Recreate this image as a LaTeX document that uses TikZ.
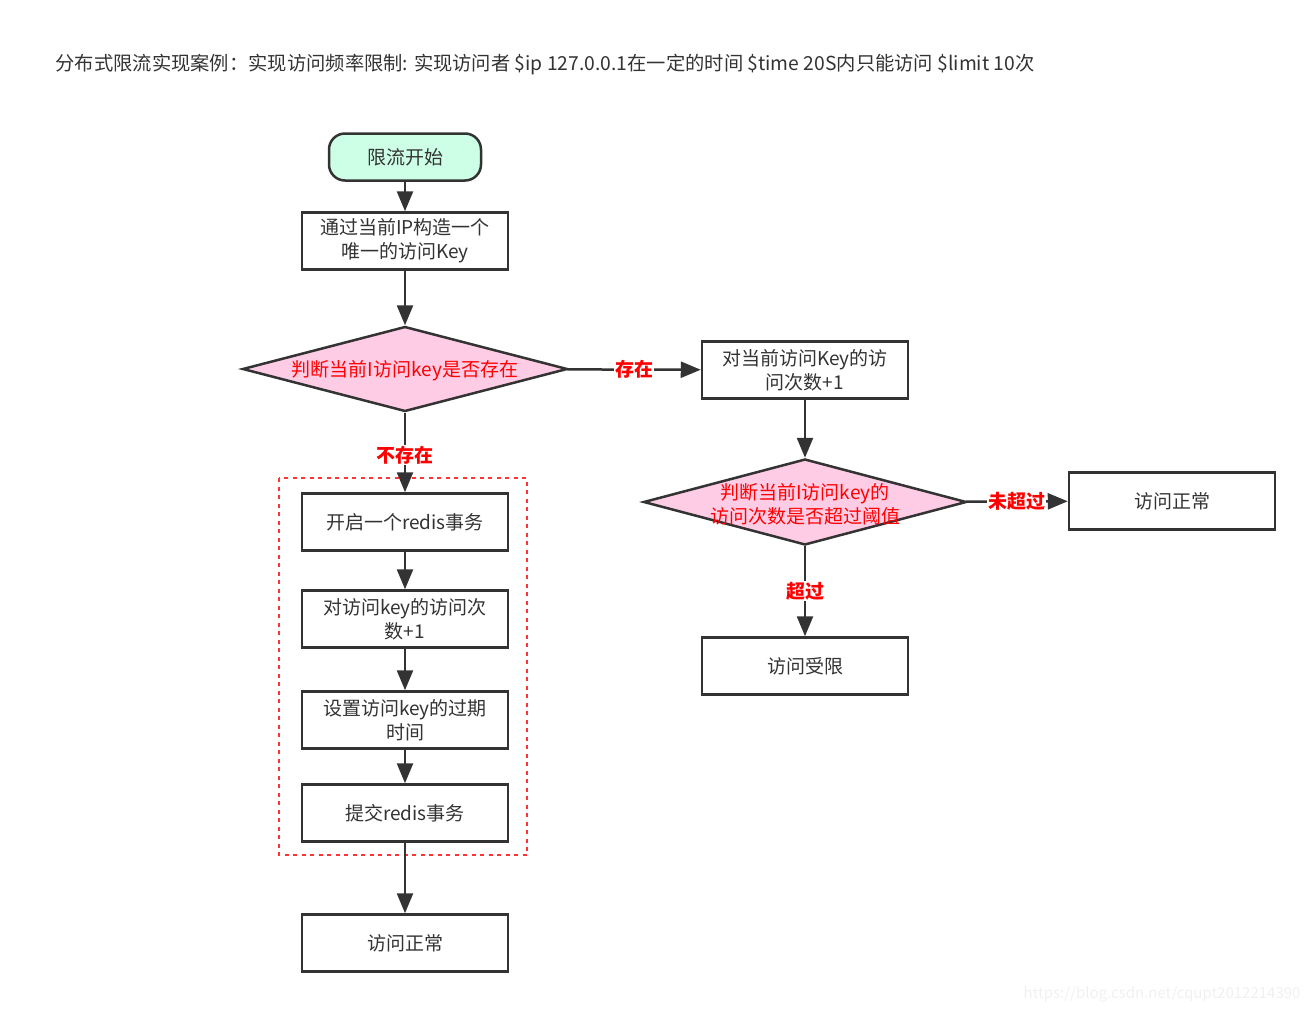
\documentclass[tikz,border=0pt]{standalone}
\usepackage{fontspec}
\setmainfont{Noto Sans CJK SC}
\usetikzlibrary{shapes.geometric,arrows.meta}
\definecolor{ln}{HTML}{333333}
\definecolor{mint}{HTML}{CCFFE6}
\definecolor{pinkf}{HTML}{FFCCE6}
\definecolor{lbl}{HTML}{FF0000}
\begin{document}
\begin{tikzpicture}[x=1pt,y=-1pt,
  every node/.style={font=\fontsize{19}{24}\selectfont, text=ln},
  box/.style={draw=ln, line width=2.5pt, fill=white, minimum width=206pt, minimum height=57pt, align=center, inner sep=2pt},
  startbox/.style={draw=ln, line width=2.5pt, fill=mint, rounded corners=16pt, minimum width=152pt, minimum height=47pt},
  dec/.style={draw=ln, line width=2.5pt, fill=pinkf, diamond, aspect=3.8, inner sep=0pt, text=lbl, align=center},
  arr/.style={draw=ln, line width=2.5pt, -{Triangle[length=20pt,width=16pt]}},
  lab/.style={text=lbl, font=\bfseries\fontsize{19}{22}\selectfont, fill=white, inner sep=1pt}]
\useasboundingbox (0,0) rectangle (1312,1010);
\node[anchor=base west, font=\fontsize{19.3}{22}\selectfont] (title) at (52,70) {分布式限流实现案例：实现访问频率限制: 实现访问者 \$ip 127.0.0.1在一定的时间 \$time 20S内只能访问 \$limit 10次};
\draw[lbl!80, line width=2.5pt, dash pattern=on 4pt off 4.5pt] (279,478) rectangle (527,855);
\node[startbox] (start) at (405,157) {限流开始};
\node[box] (b1) at (405,241) {通过当前IP构造一个\\唯一的访问Key};
\node[dec, minimum width=325pt, minimum height=85pt] (d1) at (405,369) {};
\node at (405,371) (d1t) {\textcolor{lbl}{判断当前I访问key是否存在}};
\node[box] (r1) at (805,370) {对当前访问Key的访\\问次数+1};
\node[dec, minimum width=323pt, minimum height=86pt] (d2) at (805,502) {};
\node[align=center, text=lbl] (d2t) at (805,504) {判断当前I访问key的\\访问次数是否超过阈值};
\node[box] (ok1) at (1172,501) {访问正常};
\node[box] (lim) at (805,666) {访问受限};
\node[box] (t1) at (405,522) {开启一个redis事务};
\node[box] (t2) at (405,619) {对访问key的访问次\\数+1};
\node[box] (t3) at (405,720) {设置访问key的过期\\时间};
\node[box] (t4) at (405,813) {提交redis事务};
\node[box] (ok2) at (405,943) {访问正常};
\draw[arr] (start) -- (b1);
\draw[arr] (b1) -- (d1);
\draw[arr] (d1) -- node[lab, pos=0.5] {存在} (r1);
\draw[arr] (d1) -- node[lab, pos=0.53] {不存在} (t1);
\draw[arr] (r1) -- (d2);
\draw[arr] (d2) -- node[lab, pos=0.5] {未超过} (ok1);
\draw[arr] (d2) -- node[lab, pos=0.5] {超过} (lim);
\draw[arr] (t1) -- (t2);
\draw[arr] (t2) -- (t3);
\draw[arr] (t3) -- (t4);
\draw[arr] (t4) -- (ok2);
\node[anchor=base east, text=black!6, font=\fontsize{15}{16}\selectfont] (wm) at (1304,998) {https://blog.csdn.net/cqupt2012214390};
\end{tikzpicture}
\end{document}
